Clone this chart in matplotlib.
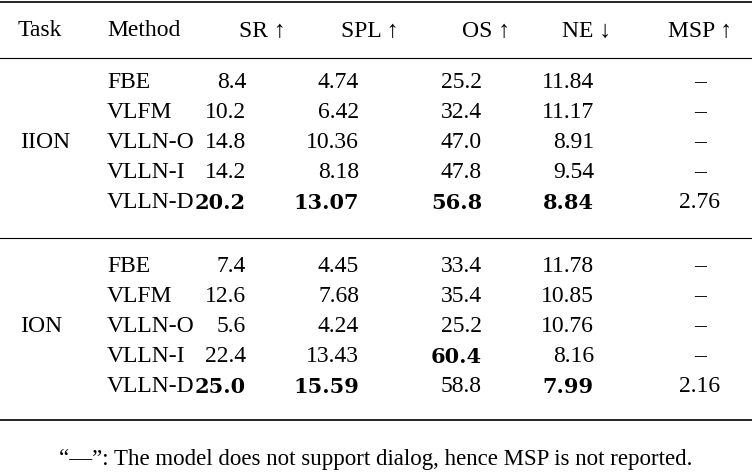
import matplotlib
matplotlib.use("Agg")
import matplotlib.pyplot as plt

headers = ["Task", "Method", "SR \u2191", "SPL \u2191", "OS \u2191", "NE \u2193", "MSP \u2191"]
tasks = ["IION", "ION"]
methods = ["FBE", "VLFM", "VLLN-O", "VLLN-I", "VLLN-D"]
sr = [["8.4", "10.2", "14.8", "14.2", "20.2"], ["7.4", "12.6", "5.6", "22.4", "25.0"]]
spl = [["4.74", "6.42", "10.36", "8.18", "13.07"], ["4.45", "7.68", "4.24", "13.43", "15.59"]]
os_ = [["25.2", "32.4", "47.0", "47.8", "56.8"], ["33.4", "35.4", "25.2", "60.4", "58.8"]]
ne = [["11.84", "11.17", "8.91", "9.54", "8.84"], ["11.78", "10.85", "10.76", "8.16", "7.99"]]
msp = [["\u2013", "\u2013", "\u2013", "\u2013", "2.76"], ["\u2013", "\u2013", "\u2013", "\u2013", "2.16"]]
bold = [[(4, 0), (4, 1), (4, 2), (4, 3)], [(4, 0), (4, 1), (3, 2), (4, 3)]]
footnote = "\u201c\u2014\u201d: The model does not support dialog, hence MSP is not reported."

SERIF = ['Liberation Serif', 'DejaVu Serif']
BOLD = ['DejaVu Serif']
fig = plt.figure(figsize=(7.52, 4.75), dpi=100)
ax = fig.add_axes([0, 0, 1, 1])
ax.set_xlim(0, 752); ax.set_ylim(475, 0); ax.axis('off')
fs = 17

for y, lw in [(2, 1.2), (58, 0.8), (238, 0.8), (420, 1.2)]:
    ax.plot([0, 752], [y, y], color='black', lw=lw)

hx = [40, 107, 262, 370, 486, 587, 700]
ha = ['center', 'left', 'center', 'center', 'center', 'center', 'center']
for x, h, t in zip(hx, ha, headers):
    ax.text(x, 31, t, ha=h, va='center', fontsize=fs, family=SERIF)

colx = [246, 359, 482, 594]
block_y = [83, 267]
for b in range(2):
    ys = [block_y[b] + 30 * i for i in range(5)]
    ax.text(20, ys[2], tasks[b], ha='left', va='center', fontsize=fs, family=SERIF)
    for i in range(5):
        ax.text(107, ys[i], methods[i], ha='left', va='center', fontsize=fs, family=SERIF)
        for c, col in enumerate([sr, spl, os_, ne]):
            isb = (i, c) in bold[b]
            ax.text(colx[c], ys[i], col[b][i], ha='right', va='center',
                    fontsize=15 if isb else fs,
                    fontweight='bold' if isb else 'normal',
                    family=BOLD if isb else SERIF)
        ax.text(700, ys[i], msp[b][i], ha='center', va='center', fontsize=fs, family=SERIF)

ax.text(376, 459, footnote, ha='center', va='center', fontsize=fs - 0.5, family=SERIF)
fig.savefig("out.png", dpi=100)
